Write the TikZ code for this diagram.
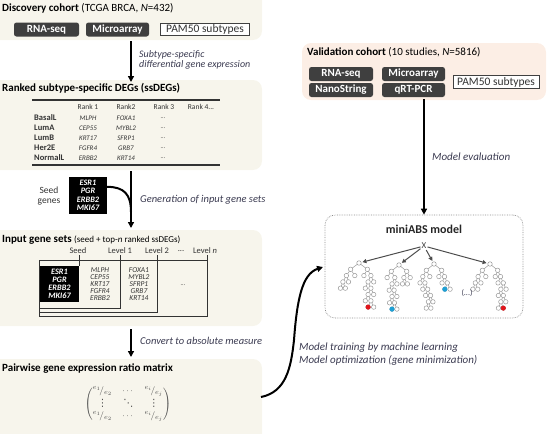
\documentclass[tikz,border=0pt]{standalone}
\usepackage{amsmath}
\usepackage{fontspec}
\setmainfont{Carlito}
\newfontfamily\dejavu{DejaVu Sans}
\usetikzlibrary{arrows.meta}
\definecolor{panelc}{HTML}{F7F5EC}
\definecolor{valc}{HTML}{FCEEE5}
\definecolor{btnc}{HTML}{3F3F3F}
\definecolor{labc}{HTML}{3A3A50}
\definecolor{txtc}{HTML}{333333}
\definecolor{redl}{HTML}{E0151B}
\definecolor{bluel}{HTML}{1EA0D5}
\newcommand{\myfs}[1]{\fontsize{#1}{#1}\selectfont}
\newcommand{\myvd}{\mbox{\dejavu\myfs{10}⋮}}
\newcommand{\mydd}{\mbox{\dejavu\myfs{10}⋱}}
\tikzset{
 btn/.style={fill=btnc, rounded corners=2.5pt, text=white, font=\bfseries\myfs{11}, minimum height=14pt, inner sep=0pt},
 wbtn/.style={draw=black!75, fill=white, text=txtc, font=\myfs{11.5}, minimum height=12.5pt, inner sep=0pt, line width=0.6pt},
 ttl/.style={anchor=west, font=\myfs{11}, text=black, inner sep=0pt},
 flow/.style={line width=2pt, -{Triangle[length=6pt,width=6pt]}},
 lab/.style={anchor=west, font=\itshape\fontsize{10}{10}\selectfont, text=labc, align=left, inner sep=0pt},
 hdr/.style={font=\myfs{7.5}, text=txtc, inner sep=0pt},
 rowl/.style={anchor=west, font=\bfseries\myfs{8.5}, text=txtc, inner sep=0pt},
 gene/.style={font=\itshape\myfs{7}, text=txtc, inner sep=0pt},
 seedbox/.style={fill=black, text=white, font=\bfseries\itshape\fontsize{8.3}{8.4}\selectfont, align=center, inner sep=0pt},
 ln/.style={draw=black!80, line width=0.6pt},
 tn/.style={circle, draw=black!40, fill=white, line width=0.5pt, minimum size=4.5pt, inner sep=0pt},
 te/.style={draw=black!40, line width=0.5pt},
 tarr/.style={draw=black!70, line width=1pt, -{Triangle[length=4pt,width=4pt]}},
}
\newcommand{\drawtree}[4]{%
 \begin{scope}[shift={#1}, x=3.5pt, y=-6.3pt]
  \foreach \xa/\ya/\xb/\yb in {#3} {\draw[te] (\xa,\ya) -- (\xb,\yb);}
  \foreach \xa/\ya/\xb/\yb in {#3} {\node[tn] at (\xb,\yb) {};}
  \node[tn] (#2) at (0,0) {};
  #4
 \end{scope}}
\begin{document}
\begin{tikzpicture}[x=1pt,y=-1pt]
\useasboundingbox (0,0) rectangle (550,434);
% panels
\fill[panelc, rounded corners=9pt] (-10,-10) rectangle (262,40);
\fill[panelc, rounded corners=9pt] (-10,80) rectangle (262,170);
\fill[panelc, rounded corners=9pt] (-10,230) rectangle (262,326);
\fill[panelc, rounded corners=9pt] (-10,359) rectangle (262,445);
\fill[valc, rounded corners=9pt] (302,43) rectangle (546,100);

% discovery
\node[ttl] (disc) at (2,8) {\textbf{Discovery cohort} (TCGA BRCA, \textit{N}=432)};
\node[btn, minimum width=65pt] (rna1) at (46.5,29.5) {RNA-seq};
\node[btn, minimum width=63pt] (micro1) at (117.5,29.5) {Microarray};
\node[wbtn, minimum width=89pt] (pam1) at (205,29.5) {PAM50 subtypes};
\coordinate (a1s) at (131,41);
\coordinate (a1e) at (131,82);
\draw[flow] (a1s) -- (a1e);
\node[lab] (l1) at (139,60) {Subtype-specific\\differential gene expression};

% ranked
\node[ttl] (rank) at (2,88) {\textbf{Ranked subtype-specific DEGs (ssDEGs)}};
\coordinate (tl1) at (32,100);
\coordinate (tr1) at (220,100);
\coordinate (tl2) at (32,165);
\coordinate (tr2) at (220,165);
\draw[line width=1.2pt, black!80] (tl1) -- (tr1);
\draw[line width=1.2pt, black!80] (tl2) -- (tr2);
\node[hdr] (h1) at (88,107) {Rank 1};
\node[hdr] (h2) at (126,107) {Rank2};
\node[hdr] (h3) at (164,107) {Rank 3};
\node[hdr] (h4) at (201,107) {Rank 4...};
\node[rowl] (r1) at (34,118) {BasalL};
\node[rowl] (r2) at (34,128) {LumA};
\node[rowl] (r3) at (34,138) {LumB};
\node[rowl] (r4) at (34,148) {Her2E};
\node[rowl] (r5) at (34,158) {NormalL};
\node[gene] (g11) at (88,118) {MLPH};
\node[gene] (g21) at (88,128) {CEP55};
\node[gene] (g31) at (88,138) {KRT17};
\node[gene] (g41) at (88,148) {FGFR4};
\node[gene] (g51) at (88,158) {ERBB2};
\node[gene] (g12) at (126,118) {FOXA1};
\node[gene] (g22) at (126,128) {MYBL2};
\node[gene] (g32) at (126,138) {SFRP1};
\node[gene] (g42) at (126,148) {GRB7};
\node[gene] (g52) at (126,158) {KRT14};
\foreach \yy/\nn in {118/d1,128/d2,138/d3,148/d4,158/d5} {\node[gene, font=\myfs{6}] (\nn) at (163,\yy) {...};}

% seed genes
\node[seedbox, minimum width=38pt, minimum height=37pt] (seed) at (88,195.5) {ESR1\\PGR\\ERBB2\\MKI67};
\node[font=\fontsize{9.5}{10}\selectfont, text=txtc, align=center, inner sep=0pt] (seedl) at (49,196) {Seed\\genes};
\coordinate (a2s) at (131,171);
\coordinate (a2e) at (131,228);
\coordinate (mrg) at (131,212);
\draw[flow] (a2s) -- (a2e);
\draw[line width=2pt] ([yshift=-10pt]seed.north east) .. controls (124,187) and (131,194) .. (mrg);
\node[lab, font=\itshape\myfs{10.5}] (l2) at (140,200) {Generation of input gene sets};

% input gene sets
\node[ttl] (inp) at (2,240) {\textbf{Input gene sets} {\myfs{9}(seed + top-\textit{n} ranked ssDEGs)}};
\node[hdr, font=\myfs{8.5}] (hs) at (78,251) {Seed};
\node[hdr, font=\myfs{8.5}] (hl1) at (120,251) {Level 1};
\node[hdr, font=\myfs{8.5}] (hl2) at (157,251) {Level 2};
\node[hdr, font=\myfs{8.5}] (hd) at (181,251) {...};
\node[hdr, font=\myfs{8.5}] (hln) at (205,251) {Level \textit{n}};
\node[seedbox, minimum width=39pt, minimum height=36pt, font=\bfseries\itshape\fontsize{8.3}{8.2}\selectfont] (seed2) at (59.5,284) {ESR1\\PGR\\ERBB2\\MKI67};
\draw[ln] (79,255) -- (seed2.north -| 79,0);
\draw[ln] (39,260) -- (207,260);
\draw[ln] (39,260) -- (39,316);
\draw[ln] (120,255) -- (120,308) -- (39,308);
\draw[ln] (157,255) -- (157,312) -- (39,312);
\draw[ln] (207,255) -- (207,316) -- (39,316);
\foreach \g [count=\i] in {MLPH,CEP55,KRT17,FGFR4,ERBB2} {\node[gene, font=\itshape\myfs{7.5}] (ia\i) at (100,263+7*\i) {\g};}
\foreach \g [count=\i] in {FOXA1,MYBL2,SFRP1,GRB7,KRT14} {\node[gene, font=\itshape\myfs{7.5}] (ib\i) at (139,263+7*\i) {\g};}
\node[gene, font=\myfs{6}] (idots) at (183,285) {...};

\coordinate (a3s) at (131,329);
\coordinate (a3e) at (131,357);
\draw[flow] (a3s) -- (a3e);
\node[lab, font=\itshape\myfs{10.5}] (l3) at (140,341) {Convert to absolute measure};

% pairwise
\node[ttl] (pair) at (2,369) {\textbf{Pairwise gene expression ratio matrix}};
\node[text=black!70, font=\myfs{9.5}, inner sep=0pt] (mat) at (128,404)
 {$\begin{pmatrix} {}^{e_1}\!/_{e_2} & \cdots & {}^{e_i}\!/_{e_j}\\[3pt] \myvd & \mydd & \myvd\\[3pt] {}^{e_1}\!/_{e_2} & \cdots & {}^{e_i}\!/_{e_j}\end{pmatrix}$};

% validation
\node[ttl] (val) at (307,52) {\textbf{Validation cohort} (10 studies, \textit{N}=5816)};
\node[btn, minimum width=64pt] (rna2) at (341,74) {RNA-seq};
\node[btn, minimum width=64pt] (nano) at (341,90) {NanoString};
\node[btn, minimum width=63pt] (micro2) at (413.5,74) {Microarray};
\node[btn, minimum width=63pt] (qrt) at (413.5,90) {qRT-PCR};
\node[wbtn, minimum width=86pt] (pam2) at (496,82) {PAM50 subtypes};
\coordinate (a4s) at (424,99);
\node[draw=black!45, densely dotted, line width=0.7pt, rounded corners=10pt, minimum width=198pt, minimum height=103pt, inner sep=0pt] (mini) at (424,266.5) {};
\draw[flow] (a4s) -- (mini.north);
\node[lab, font=\itshape\myfs{11}] (l4) at (432,157) {Model evaluation};

\node[font=\bfseries\myfs{12}, text=black!85, inner sep=0pt] (mtitle) at (424,229) {miniABS model};
\node[font=\myfs{9}, text=black!75, inner sep=1pt] (X) at (424,246) {X};

% trees
\drawtree{(359,263)}{t1}{0/0/-2.4/1, 0/0/2.4/1, -2.4/1/-3.6/2, -2.4/1/-1.2/2, 2.4/1/1.4/2, 2.4/1/3.4/2, -3.6/2/-4.6/3, -3.6/2/-3.0/3, 3.4/2/2.6/3, 3.4/2/4.2/3, -4.6/3/-5.3/4, -4.6/3/-3.9/4, 2.6/3/1.8/4, 2.6/3/3.4/4, 3.4/4/2.6/5, 3.4/4/4.2/5, 2.6/5/1.8/6, 2.6/5/3.4/6, 3.4/6/2.6/7, 3.4/6/4.2/7}{\node[tn, fill=redl, draw=redl] (t1red) at (2.6,7) {};}
\drawtree{(399,265)}{t2}{0/0/-2.2/1, 0/0/2.2/1, -2.2/1/-3.4/2, -2.2/1/-1.2/2, 2.2/1/1.4/2, 2.2/1/3.2/2, -1.2/2/-2.0/3, -1.2/2/-0.6/3, 1.4/2/1.0/3, 1.4/2/2.4/3, -2.0/3/-2.8/4, -2.0/3/-1.4/4, -1.4/4/-2.0/5, -1.4/4/-0.6/5, -2.0/5/-2.7/6, -2.0/5/-1.3/6, -1.3/6/-2.0/7, -1.3/6/-0.6/7}{\node[tn, fill=bluel, draw=bluel] (t2blue) at (-2.0,7) {};}
\drawtree{(434,264)}{t3}{0/0/-2.2/1, 0/0/2.2/1, -2.2/1/-3.2/2, -2.2/1/-1.2/2, 2.2/1/1.4/2, 2.2/1/3.0/2, -3.2/2/-4.0/3, -3.2/2/-2.6/3, 3.0/2/2.3/3, 3.0/2/3.8/3, -2.6/3/-3.2/4, -2.6/3/-1.8/4, 3.8/3/3.1/4, 3.8/3/4.6/4, -1.8/4/-2.4/5, -1.8/4/-1.0/5, -1.0/5/-1.6/6, -1.0/5/-0.3/6, -1.6/6/-2.2/7, -1.6/6/-0.9/7}{\node[tn, fill=bluel, draw=bluel] (t3blue) at (3.1,4) {};}
\drawtree{(490,264)}{t4}{0/0/-2.2/1, 0/0/2.2/1, -2.2/1/-3.4/2, -2.2/1/-1.2/2, 2.2/1/1.5/2, 2.2/1/3.0/2, -3.4/2/-4.2/3, -3.4/2/-2.6/3, 3.0/2/2.3/3, 3.0/2/3.8/3, -4.2/3/-4.9/4, -4.2/3/-3.5/4, 3.8/3/3.1/4, 3.8/3/4.6/4, 3.1/4/2.4/5, 3.1/4/3.8/5, 3.8/5/3.1/6, 3.8/5/4.5/6, 3.1/6/2.4/7, 3.1/6/3.8/7}{\node[tn, fill=redl, draw=redl] (t4red) at (3.8,7) {};}
\node[font=\myfs{8}, text=labc, inner sep=0pt] (more) at (467,293) {(...)};
\foreach \t in {t1,t2,t3,t4} {\draw[tarr, shorten >=1pt] (X) -- (\t);}

% training curve
\coordinate (cstart) at (261,397);
\coordinate (cmid) at (294,340);
\coordinate (cend) at (323,267);
\draw[line width=2pt, -{Triangle[length=6pt,width=6pt]}] (cstart) .. controls (286,392) and (291,368) .. (cmid) .. controls (297,300) and (302,274) .. (cend);
\node[lab, font=\itshape\fontsize{11}{12.5}\selectfont] (l5) at (299,354) {Model training by machine learning\\Model optimization (gene minimization)};
\end{tikzpicture}
\end{document}
